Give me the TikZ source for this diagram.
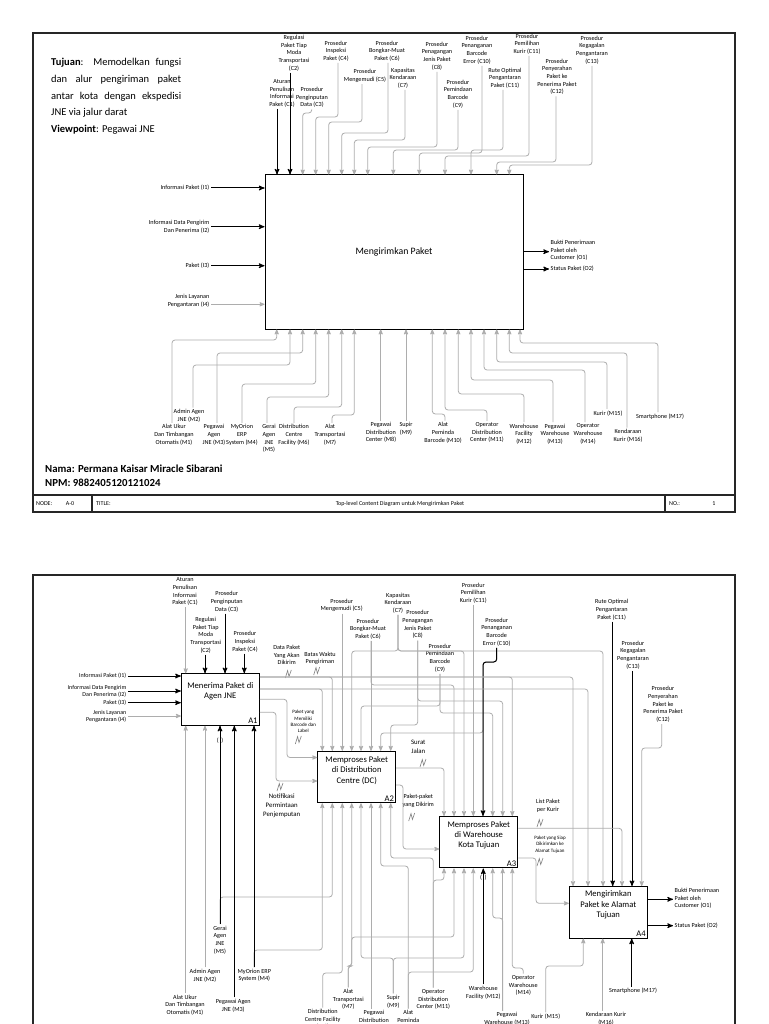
\documentclass[tikz,border=0pt]{standalone}
\usepackage{fontspec}
\setmainfont{Carlito}
\usetikzlibrary{arrows,calc,positioning}

\tikzset{
  frm/.style={draw=black!85, line width=1.1pt},
  fbox/.style={draw=black, line width=1pt, inner sep=0pt},
  blk/.style={draw=black, line width=1pt, rounded corners=3pt},
  gry/.style={draw=black!32, line width=0.8pt, rounded corners=3pt},
  lbl/.style={font=\fontsize{6.2}{7.7}\selectfont, align=center, inner sep=1.5pt},
  small lbl/.style={font=\fontsize{5}{6.2}\selectfont, align=center, inner sep=1pt},
  mid lbl/.style={font=\fontsize{6.8}{9}\selectfont, align=center, inner sep=1pt},
  foot/.style={font=\fontsize{6}{7}\selectfont, inner sep=0pt},
  head/.style={font=\fontsize{10.5}{12}\selectfont, inner sep=0pt, anchor=base west},
  boxtxt/.style={font=\fontsize{8.6}{10.4}\selectfont, align=center, inner sep=0pt},
  boxno/.style={font=\fontsize{8.6}{10}\selectfont, inner sep=2pt},
  zz/.style={draw=black!50, line width=0.6pt},
}
\newcommand{\squig}[2]{\draw[zz] (#1-3,#2+4) -- (#1-0.7,#2-3.5) -- (#1+0.7,#2+2.5) -- (#1+3,#2-4);}

\begin{document}
\begin{tikzpicture}[x=1pt,y=-1pt,>=stealth']
\fill[white] (0,0) rectangle (768,1024);
\useasboundingbox (0,0) rectangle (768,1024);

%% ---------------- sheet A-0 ----------------
\draw[frm] (33,33) rectangle (735,512);
\draw[frm] (33,495) -- (735,495);
\draw[frm] (92,495) -- (92,512);
\draw[frm] (665,495) -- (665,512);
\node[foot, anchor=west] (nodekey) at (36,503.5) {NODE:};
\node[foot] (nodeval) at (70,503.5) {A-0};
\node[foot, anchor=west] (titlekey) at (96,503.5) {TITLE:};
\node[foot] (titleval) at (400,503.5) {Top-level Content Diagram untuk Mengirimkan Paket};
\node[foot, anchor=west] (nokey) at (669,503.5) {NO.:};
\node[foot] (noval) at (714,503.5) {1};

\node[head] (goal1) at (51,65.8) {\makebox[130pt][s]{\textbf{Tujuan}: Memodelkan fungsi}};
\node[head] (goal2) at (51,82.5) {\makebox[130pt][s]{dan alur pengiriman paket}};
\node[head] (goal3) at (51,99.2) {\makebox[130pt][s]{antar kota dengan ekspedisi}};
\node[head] (goal4) at (51,115.9) {JNE via jalur darat};
\node[head] (view) at (51,132.5) {\textbf{Viewpoint}: Pegawai JNE};
\node[head, font=\fontsize{10.8}{12}\selectfont\bfseries] (nama) at (45,472) {Nama: Permana Kaisar Miracle Sibarani};
\node[head, font=\fontsize{10.8}{12}\selectfont\bfseries] (npm) at (45,486) {NPM: 9882405120121024};

\node[fbox, minimum width=258pt, minimum height=154pt, font=\fontsize{9.8}{12}\selectfont] (main) at (394,252) {Mengirimkan Paket};

% inputs
\foreach \nm/\yy/\ly/\sty/\txt in {
  i1/188/188/blk/{Informasi Paket (I1)},
  i2/226.7/227/blk/{Informasi Data Pengirim\\Dan Penerima (I2)},
  i3/265.7/265.7/blk/{Paket (I3)},
  i4/304.3/300.8/gry/{Jenis Layanan\\Pengantaran (I4)}} {
  \node[lbl, anchor=east, align=right] (\nm) at (211,\ly) {\txt};
  \draw[\sty,->] (\nm.east |- 0,\yy) -- (main.west |- 0,\yy);
}
% outputs
\foreach \nm/\yy/\ly/\txt in {
  o1/251.7/250.5/{Bukti Penerimaan\\Paket oleh\\Customer (O1)},
  o2/269/269/{Status Paket (O2)}} {
  \node[lbl, anchor=west, align=left] (\nm) at (549,\ly) {\txt};
  \draw[blk,->] (main.east |- 0,\yy) -- (\nm.west |- 0,\yy);
}
% controls
\foreach \nm/\lx/\ly/\ax/\txt in {
  c1/282/93.3/277/{Aturan\\Penulisan\\Informasi\\Paket (C1)},
  c2/294/53/290/{Regulasi\\Paket Tiap\\Moda\\Transportasi\\(C2)}} {
  \node[lbl] (\nm) at (\lx,\ly) {\txt};
  \draw[blk,->] (\ax,0 |- \nm.south) -- (\ax,0 |- main.north);
}
\foreach \nm/\lx/\ly/\sx/\jy/\ax/\txt in {
  c3/312/97.5/311.7/113/302.7/{Prosedur\\Penginputan\\Data (C3)},
  c4/336/51/338/117/315.7/{Prosedur\\Inspeksi\\Paket (C4)},
  c5/365/76/362/122/328.7/{Prosedur\\Mengemudi (C5)},
  c6/387/51/388/133/341.7/{Prosedur\\Bongkar-Muat\\Paket (C6)},
  c7/403/78/405/140/354.3/{Kapasitas\\Kendaraan\\(C7)},
  c8/437/56/437/147/367.7/{Prosedur\\Penagangan\\Jenis Paket\\(C8)},
  c9/458/94/458/150/393.3/{Prosedur\\Pemindaan\\Barcode\\(C9)},
  c10/477/50/482/153/419.3/{Prosedur\\Penanganan\\Barcode\\Error (C10)},
  c11/527/44/529/156/445/{Prosedur\\Pemilihan\\Kurir (C11)},
  c11r/505/78/503/150/471/{Rute Optimal\\Pengantaran\\Paket (C11)},
  c12/557/76.7/556/162/496.7/{Prosedur\\Penyerahan\\Paket ke\\Penerima Paket\\(C12)},
  c13/592/50/592/165/509.3/{Prosedur\\Kegagalan\\Pengantaran\\(C13)}} {
  \node[lbl] (\nm) at (\lx,\ly) {\txt};
  \draw[gry,->] (\sx,0 |- \nm.south) |- (\ax,\jy) -- (\ax,0 |- main.north);
}
% mechanisms
\foreach \nm/\lx/\ly/\ax/\txt in {
  m8/381/432.5/380.7/{Pegawai\\Distribution\\Center (M8)},
  m9/406/428.8/406/{Supir\\(M9)}} {
  \node[lbl] (\nm) at (\lx,\ly) {\txt};
  \draw[gry,->] (\ax,0 |- \nm.north) -- (\ax,0 |- main.south);
}
\foreach \nm/\lx/\ly/\sx/\jy/\ax/\txt in {
  m1/174/434.8/172/340/276.7/{Alat Ukur\\Dan Timbangan\\Otomatis (M1)},
  m2/189/415.8/193/365/290/{Admin Agen\\JNE (M2)},
  m3/214/434.8/217/353/302.7/{Pegawai\\Agen\\JNE (M3)},
  m4/242/434.8/242/384/315.7/{MyOrion\\ERP\\System (M4)},
  m5/269/438.7/267/397/328.7/{Gerai\\Agen\\JNE\\(M5)},
  m6/294/434.8/294/407/341.7/{Distribution\\Centre\\Facility (M6)},
  m7/330/434.8/332/415/354.3/{Alat\\Transportasi\\(M7)},
  m10/443/432.7/445/414/432.3/{Alat\\Peminda\\Barcode (M10)},
  m11/487/432.7/487/410/445/{Operator\\Distribution\\Center (M11)},
  m12/524/434/524/394/458.3/{Warehouse\\Facility\\(M12)},
  m13/555/434/553/380/471/{Pegawai\\Warehouse\\(M13)},
  m14/588/434/585/370/484/{Operator\\Warehouse\\(M14)},
  m15/608/413.3/607/362/496.7/{Kurir (M15)},
  m16/628/435.8/627/353/509.3/{Kendaraan\\Kurir (M16)},
  m17/660/416.7/658/343/520/{Smartphone (M17)}} {
  \node[lbl] (\nm) at (\lx,\ly) {\txt};
  \draw[gry,->] (\sx,0 |- \nm.north) |- (\ax,\jy) -- (\ax,0 |- main.south);
}

%% ---------------- sheet A0 ----------------
\draw[frm] (33,1030) -- (33,575) -- (735,575) -- (735,1030);

\foreach \nm/\cx/\cy/\gap/\txt/\num in {
  a1/220.3/699.5/9pt/{Menerima Paket di\\Agen JNE}/A1,
  a2/356.7/777/5.5pt/{Memproses Paket\\di Distribution\\Centre (DC)}/A2,
  a3/478.8/842.2/5pt/{Memproses Paket\\di Warehouse\\Kota Tujuan}/A3,
  a4/608.3/912.3/4.5pt/{Mengirimkan\\Paket ke Alamat\\Tujuan}/A4} {
  \node[fbox, minimum width=78pt, minimum height=51.5pt] (\nm) at (\cx,\cy) {};
  \node[boxtxt, below=\gap of \nm.north] (\nm-txt) {\txt};
  \node[boxno, anchor=south east] (\nm-no) at (\nm.south east) {\num};
}
\node[lbl] (tun1) at (220,741) {(\hspace{2.5pt})};
\node[lbl] (tun3) at (483.3,878) {(\hspace{2.5pt})};

% inputs of A1
\foreach \nm/\yy/\ly/\sty/\txt in {
  bi1/676/676/blk/{Informasi Paket (I1)},
  bi2/691/691/blk/{Informasi Data Pengirim\\Dan Penerima (I2)},
  bi3/702.7/702.7/blk/{Paket (I3)},
  bi4/716/716.3/gry/{Jenis Layanan\\Pengantaran (I4)}} {
  \node[lbl, font=\fontsize{6}{6.8}\selectfont, anchor=east, align=right] (\nm) at (128,\ly) {\txt};
  \draw[\sty,->] (\nm.east |- 0,\yy) -- (a1.west |- 0,\yy);
}
% controls of A1
\foreach \nm/\lx/\ly/\ax/\sty/\txt in {
  bc1/185/591.7/185.7/gry/{Aturan\\Penulisan\\Informasi\\Paket (C1)},
  bc2/205.7/635/205/blk/{Regulasi\\Paket Tiap\\Moda\\Transportasi\\(C2)},
  bc3/226.7/601.7/225/blk/{Prosedur\\Penginputan\\Data (C3)},
  bc4/245/641.7/244.3/blk/{Prosedur\\Inspeksi\\Paket (C4)}} {
  \node[lbl] (\nm) at (\lx,\ly) {\txt};
  \draw[\sty,->] (\ax,0 |- \nm.south) -- (\ax,0 |- a1.north);
}
% other controls
\node[lbl] (bc5) at (341.7,605.5) {Prosedur\\Mengemudi (C5)};
\node[lbl] (bc6) at (368,629) {Prosedur\\Bongkar-Muat\\Paket (C6)};
\node[lbl] (bc7) at (398,603) {Kapasitas\\Kendaraan\\(C7)};
\node[lbl] (bc8) at (417.7,624.7) {Prosedur\\Penagangan\\Jenis Paket\\(C8)};
\node[lbl] (bc9) at (440,658) {Prosedur\\Pemindaan\\Barcode\\(C9)};
\node[lbl] (bc10) at (496.7,632) {Prosedur\\Penanganan\\Barcode\\Error (C10)};
\node[lbl] (bc11) at (473.3,593) {Prosedur\\Pemilihan\\Kurir (C11)};
\node[lbl] (bc11r) at (611.7,609.7) {Rute Optimal\\Pengantaran\\Paket (C11)};
\node[lbl] (bc13) at (633,655) {Prosedur\\Kegagalan\\Pengantaran\\(C13)};
\node[lbl] (bc12) at (663,704.5) {Prosedur\\Penyerahan\\Paket ke\\Penerima Paket\\(C12)};

\draw[gry,->] (342.3,0 |- bc5.south) -- (342.3,0 |- a2.north);
\draw[gry,->] (371,0 |- bc6.south) -- (371,0 |- a2.north);
\draw[gry,->] (371,0 |- bc6.south) |- (454,685) -- (454,0 |- a3.north);
\draw[gry,->] (bc7.south) |- (603,651) -- (603,0 |- a4.north);
\draw[gry,->] (bc7.south) |- (464,651) -- (464,0 |- a3.north);
\draw[gry,->] (bc7.south) |- (351.7,651) -- (351.7,0 |- a2.north);
\draw[gry,->] (bc8.south) |- (390.7,725) -- (390.7,0 |- a2.north);
\draw[gry,->] (bc8.south) |- (502.7,701) -- (502.7,0 |- a3.north);
\draw[gry,->] (bc9.south) |- (492.7,713) -- (492.7,0 |- a3.north);
\draw[gry,->] (bc9.south) |- (361,706) -- (361,0 |- a2.north);
\draw[gry,->] (bc10.south) |- (483,662) -- (483,733) -| (380.7,0 |- a2.north);
\draw[blk,->] (bc10.south) |- (483,662) -- (483,0 |- a3.north);
\draw[gry,->] (bc11.south) -- (473.3,0 |- a3.north);
\draw[blk,->] (612.7,0 |- bc11r.south) -- (612.7,0 |- a4.north);
\draw[blk,->] (632,0 |- bc13.south) -- (632,0 |- a4.north);
\draw[gry,->] (661.7,0 |- bc12.south) |- (641.7,748) -- (641.7,0 |- a4.north);

% flows between activities
\node[lbl] (dpk) at (286.7,655) {Data Paket\\Yang Akan\\Dikirim};
\node[lbl] (btw) at (320,658.3) {Batas Waktu\\Pengiriman};
\node[small lbl] (pbl) at (303.3,721.5) {Paket yang\\Memiliki\\Barcode dan\\Label};
\node[mid lbl] (npj) at (281.7,806) {Notifikasi\\Permintaan\\Penjemputan};
\node[mid lbl] (srj) at (418.3,746.7) {Surat\\Jalan};
\node[lbl] (ppd) at (418.3,801) {Paket-paket\\yang Dikirim};
\node[lbl] (lpk) at (548,806) {List Paket\\per Kurir};
\node[small lbl] (psd) at (550,844.5) {Paket yang Siap\\Dikirimkan ke\\Alamat Tujuan};
\squig{288.3}{674}
\squig{316.7}{671}
\squig{298.3}{740}
\squig{280}{787}
\squig{423}{763}
\squig{411.7}{817}
\squig{540}{823}
\squig{540}{862}

\draw[gry,->] (a1.east |- 0,677) -| (573,0 |- a4.north);
\draw[gry,->] (a1.east |- 0,677) -| (332.3,0 |- a2.north);
\draw[gry,->] (a1.east |- 0,677) -| (512.3,0 |- a3.north);
\draw[gry,->] (a1.east |- 0,689) -| (588,0 |- a4.north);
\draw[gry,->] (a1.east |- 0,689) -| (322.3,0 |- a2.north);
\draw[gry,->] (a1.east |- 0,699.3) -| (287,757.5) -- (a2.west |- 0,757.5);
\draw[gry,->] (a1.east |- 0,712.3) -| (276,781) -- (a2.west |- 0,781);
\draw[gry,->] (a2.east |- 0,768) -| (444,0 |- a3.north);
\draw[gry,->] (a2.east |- 0,785) -| (403,849) -- (a3.west |- 0,849);
\draw[gry,->] (a3.east |- 0,828.3) -| (622,0 |- a4.north);
\draw[gry,->] (a3.east |- 0,858) -| (536,903.3) -- (a4.west |- 0,903.3);

% outputs of A4
\node[lbl, anchor=west, align=left] (bo1) at (673,898.5) {Bukti Penerimaan\\Paket oleh\\Customer (O1)};
\node[lbl, anchor=west, align=left] (bo2) at (673,925.7) {Status Paket (O2)};
\draw[blk,->] (a4.east |- 0,899.3) -- (bo1.west |- 0,899.3);
\draw[blk,->] (a4.east |- 0,925.7) -- (bo2.west |- 0,925.7);

% mechanisms
\node[lbl] (bm1) at (185,1005) {Alat Ukur\\Dan Timbangan\\Otomatis (M1)};
\node[lbl] (bm2) at (205,975.5) {Admin Agen\\JNE (M2)};
\node[lbl] (bm3) at (233.3,1005.5) {Pegawai Agen\\JNE (M3)};
\node[lbl] (bm4) at (254.3,975.5) {MyOrion ERP\\System (M4)};
\node[lbl] (bm5) at (220,940) {Gerai\\Agen\\JNE\\(M5)};
\node[lbl] (bm6) at (322.7,1019.5) {Distribution\\Centre Facility\\(M6)};
\node[lbl] (bm7) at (348.3,999.3) {Alat\\Transportasi\\(M7)};
\node[lbl] (bm8) at (374,1020.5) {Pegawai\\Distribution\\Center (M8)};
\node[lbl] (bm9) at (393.3,1001.5) {Supir\\(M9)};
\node[lbl] (bm10) at (408.3,1020.5) {Alat\\Peminda\\Barcode (M10)};
\node[lbl] (bm11) at (433.3,999.5) {Operator\\Distribution\\Center (M11)};
\node[lbl] (bm12) at (483.3,992.5) {Warehouse\\Facility (M12)};
\node[lbl] (bm13) at (507,1019) {Pegawai\\Warehouse (M13)};
\node[lbl] (bm14) at (523.3,985.5) {Operator\\Warehouse\\(M14)};
\node[lbl] (bm15) at (545.7,1016.7) {Kurir (M15)};
\node[lbl] (bm16) at (606,1019) {Kendaraan Kurir\\(M16)};
\node[lbl] (bm17) at (633,991) {Smartphone (M17)};

\draw[gry,->] (185.7,0 |- bm1.north) -- (185.7,0 |- a1.south);
\draw[gry,->] (205,0 |- bm2.north) -- (205,0 |- a1.south);
\draw[gry,->] (220,0 |- bm5.north) |- (332.3,897) -- (332.3,0 |- a2.south);
\draw[gry,->] (254,0 |- bm4.north) |- (322.3,950) -- (322.3,0 |- a2.south);
\draw[blk,->] (220,0 |- bm5.north) -- (220,0 |- a1.south);
\draw[blk,->] (234.3,0 |- bm3.north) -- (234.3,0 |- a1.south);
\draw[blk,->] (254,0 |- bm4.north) -- (254,0 |- a1.south);
\draw[gry,->] (bm6.north) |- (342.3,973) -- (342.3,0 |- a2.south);
\draw[gry,->] (bm7.north) |- (351.7,966) -- (351.7,0 |- a2.south);
\draw[gry,->] (bm7.north) |- (351.7,966) -- (351.7,937) -| (454,0 |- a3.south);
\draw[gry,->] (371,0 |- bm8.north) -- (371,0 |- a2.south);
\draw[gry,->] (bm9.north) |- (361,958) -- (361,0 |- a2.south);
\draw[gry,->] (bm9.north) |- (464,958) -- (464,0 |- a3.south);
\draw[gry,->] (bm10.north) |- (380.7,866) -- (380.7,0 |- a2.south);
\draw[gry,->] (bm10.north) |- (473.3,972) -- (473.3,0 |- a3.south);
\draw[gry,->] (bm11.north) |- (390.7,858) -- (390.7,0 |- a2.south);
\draw[gry,->] (bm11.north) |- (444,880) -- (444,0 |- a3.south);
\draw[blk,->] (bm12.north) -- (483.3,0 |- a3.south);
\draw[gry,->] (502.7,0 |- bm13.north) -- (502.7,0 |- a3.south);
\draw[gry,->] (502.7,0 |- bm13.north) |- (492.7,918) -- (492.7,0 |- a3.south);
\draw[gry,->] (bm14.north) |- (512.3,968) -- (512.3,0 |- a3.south);
\draw[gry,->] (bm15.north) |- (583.3,966) -- (583.3,0 |- a4.south);
\draw[gry,->] (602.7,0 |- bm16.north) -- (602.7,0 |- a4.south);
\draw[blk,->] (631.7,0 |- bm17.north) -- (631.7,0 |- a4.south);
\end{tikzpicture}
\end{document}
